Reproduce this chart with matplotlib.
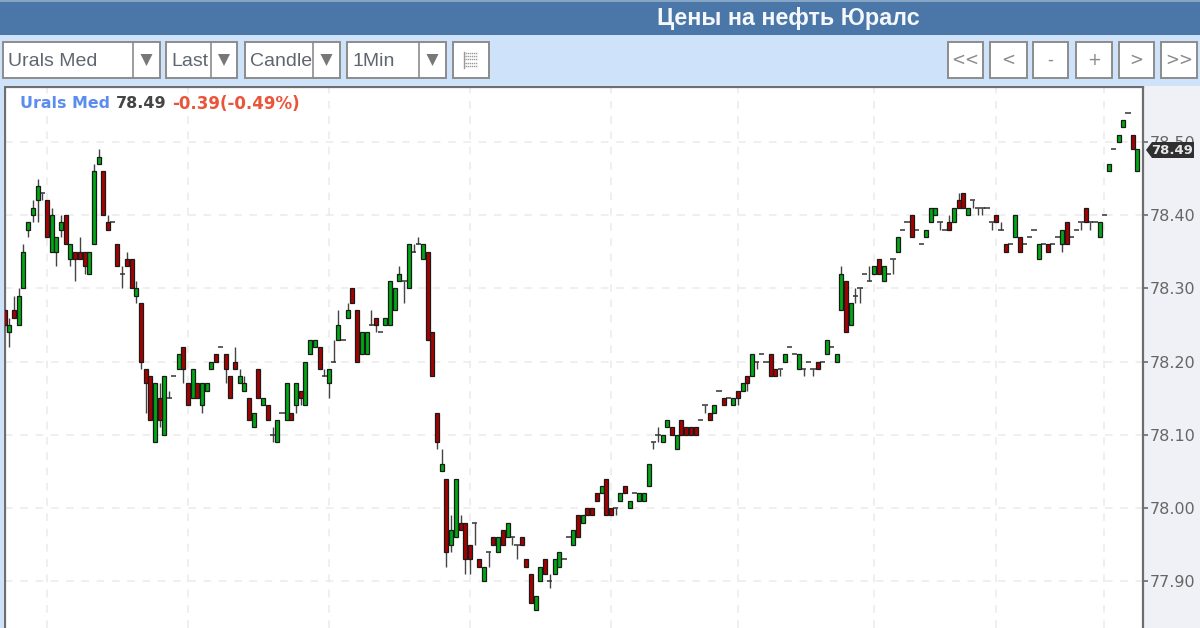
import matplotlib
matplotlib.use('Agg')
import matplotlib.pyplot as plt
from matplotlib.patches import Rectangle, Polygon
import numpy as np

# 1-minute candles, every value in cents steps
opens = [
    78.27, 78.24, 78.27, 78.25, 78.30, 78.38, 78.40, 78.42, 78.43, 78.42,
    78.35, 78.35, 78.38, 78.40, 78.34, 78.35, 78.35, 78.35, 78.32, 78.36,
    78.47, 78.46, 78.39, 78.39, 78.36, 78.32, 78.34, 78.34, 78.29, 78.28,
    78.19, 78.18, 78.09, 78.15, 78.10, 78.15, 78.18, 78.19, 78.22, 78.17,
    78.15, 78.17, 78.14, 78.16, 78.19, 78.21, 78.22, 78.21, 78.18, 78.20,
    78.17, 78.16, 78.15, 78.11, 78.19, 78.14, 78.14, 78.10, 78.09, 78.13,
    78.12, 78.13, 78.14, 78.16, 78.14, 78.21, 78.22, 78.22, 78.18, 78.17,
    78.20, 78.23, 78.23, 78.26, 78.30, 78.27, 78.21, 78.21, 78.25, 78.26,
    78.24, 78.25, 78.25, 78.27, 78.31, 78.31, 78.30, 78.35, 78.36, 78.34,
    78.35, 78.24, 78.13, 78.05, 78.04, 77.95, 77.96, 77.98, 77.98, 77.95,
    77.98, 77.93, 77.90, 77.94, 77.96, 77.94, 77.97, 77.96, 77.96, 77.95,
    77.96, 77.93, 77.91, 77.86, 77.90, 77.93, 77.90, 77.91, 77.92, 77.93,
    77.96, 77.95, 77.99, 77.98, 78.00, 78.00, 78.02, 78.02, 78.04, 78.00,
    78.00, 78.01, 78.03, 78.00, 78.02, 78.01, 78.01, 78.03, 78.09, 78.10,
    78.09, 78.11, 78.11, 78.08, 78.12, 78.11, 78.11, 78.11, 78.12, 78.14,
    78.13, 78.13, 78.16, 78.15, 78.15, 78.14, 78.16, 78.16, 78.18, 78.18,
    78.20, 78.21, 78.20, 78.21, 78.19, 78.19, 78.20, 78.22, 78.21, 78.19,
    78.19, 78.20, 78.19, 78.20, 78.20, 78.21, 78.22, 78.20, 78.27, 78.31,
    78.25, 78.29, 78.30, 78.32, 78.31, 78.32, 78.34, 78.31, 78.32, 78.34,
    78.35, 78.38, 78.39, 78.40, 78.38, 78.36, 78.37, 78.39, 78.40, 78.39,
    78.38, 78.39, 78.39, 78.42, 78.43, 78.40, 78.42, 78.41, 78.41, 78.41,
    78.39, 78.40, 78.38, 78.36, 78.36, 78.37, 78.37, 78.36, 78.37, 78.38,
    78.34, 78.36, 78.36, 78.36, 78.37, 78.36, 78.39, 78.37, 78.38, 78.39,
    78.41, 78.39, 78.39, 78.37, 78.40, 78.46, 78.49, 78.50, 78.52, 78.54, 78.51, 78.46,
]
closes = [
    78.25, 78.25, 78.26, 78.29, 78.35, 78.39, 78.41, 78.44, 78.43, 78.37,
    78.40, 78.37, 78.39, 78.36, 78.36, 78.34, 78.34, 78.33, 78.35, 78.46,
    78.48, 78.40, 78.38, 78.39, 78.33, 78.32, 78.33, 78.30, 78.30, 78.20,
    78.17, 78.12, 78.17, 78.12, 78.18, 78.15, 78.18, 78.21, 78.19, 78.14,
    78.19, 78.15, 78.17, 78.17, 78.20, 78.20, 78.22, 78.19, 78.15, 78.19,
    78.18, 78.17, 78.12, 78.13, 78.15, 78.15, 78.12, 78.10, 78.12, 78.13,
    78.17, 78.12, 78.17, 78.15, 78.20, 78.23, 78.23, 78.19, 78.18, 78.19,
    78.20, 78.25, 78.23, 78.27, 78.28, 78.20, 78.24, 78.24, 78.25, 78.25,
    78.24, 78.26, 78.31, 78.30, 78.32, 78.31, 78.36, 78.35, 78.36, 78.36,
    78.23, 78.18, 78.09, 78.06, 77.94, 77.97, 78.04, 77.97, 77.93, 77.93,
    77.98, 77.92, 77.92, 77.94, 77.95, 77.96, 77.95, 77.98, 77.96, 77.95,
    77.95, 77.92, 77.87, 77.88, 77.92, 77.91, 77.90, 77.93, 77.94, 77.93,
    77.96, 77.97, 77.96, 77.99, 77.99, 77.99, 78.01, 78.03, 77.99, 77.99,
    78.00, 78.02, 78.02, 78.01, 78.02, 78.02, 78.02, 78.06, 78.09, 78.10,
    78.10, 78.12, 78.10, 78.10, 78.10, 78.10, 78.10, 78.10, 78.12, 78.14,
    78.12, 78.14, 78.16, 78.14, 78.15, 78.15, 78.15, 78.17, 78.17, 78.21,
    78.20, 78.21, 78.20, 78.18, 78.18, 78.19, 78.21, 78.22, 78.21, 78.21,
    78.19, 78.20, 78.19, 78.19, 78.20, 78.23, 78.22, 78.21, 78.32, 78.24,
    78.28, 78.29, 78.30, 78.32, 78.31, 78.33, 78.32, 78.33, 78.32, 78.34,
    78.37, 78.38, 78.39, 78.37, 78.38, 78.36, 78.38, 78.41, 78.41, 78.39,
    78.38, 78.38, 78.41, 78.41, 78.41, 78.41, 78.42, 78.41, 78.41, 78.41,
    78.39, 78.39, 78.38, 78.35, 78.36, 78.40, 78.35, 78.36, 78.37, 78.38,
    78.36, 78.36, 78.35, 78.36, 78.37, 78.38, 78.36, 78.37, 78.38, 78.39,
    78.39, 78.39, 78.39, 78.39, 78.40, 78.47, 78.49, 78.51, 78.53, 78.54, 78.49, 78.49,
]
highs = [
    78.27, 78.26, 78.29, 78.30, 78.36, 78.39, 78.42, 78.45, 78.43, 78.42,
    78.41, 78.37, 78.40, 78.40, 78.36, 78.35, 78.37, 78.35, 78.35, 78.47,
    78.49, 78.46, 78.40, 78.39, 78.36, 78.33, 78.35, 78.34, 78.31, 78.28,
    78.19, 78.18, 78.17, 78.17, 78.18, 78.16, 78.18, 78.21, 78.22, 78.17,
    78.19, 78.17, 78.17, 78.17, 78.20, 78.21, 78.22, 78.21, 78.18, 78.22,
    78.19, 78.18, 78.15, 78.13, 78.19, 78.15, 78.14, 78.11, 78.12, 78.13,
    78.17, 78.13, 78.17, 78.16, 78.20, 78.23, 78.23, 78.22, 78.19, 78.19,
    78.23, 78.27, 78.23, 78.28, 78.30, 78.27, 78.24, 78.24, 78.27, 78.26,
    78.24, 78.26, 78.31, 78.30, 78.33, 78.31, 78.36, 78.36, 78.37, 78.36,
    78.35, 78.24, 78.13, 78.08, 78.04, 77.99, 78.04, 77.99, 77.98, 77.95,
    77.98, 77.93, 77.92, 77.94, 77.96, 77.96, 77.97, 77.98, 77.96, 77.95,
    77.96, 77.93, 77.91, 77.88, 77.92, 77.93, 77.91, 77.93, 77.94, 77.93,
    77.96, 77.97, 77.99, 77.99, 78.00, 78.00, 78.02, 78.03, 78.04, 78.00,
    78.00, 78.02, 78.03, 78.01, 78.02, 78.02, 78.02, 78.06, 78.09, 78.11,
    78.10, 78.12, 78.11, 78.10, 78.12, 78.11, 78.11, 78.11, 78.12, 78.14,
    78.13, 78.14, 78.16, 78.15, 78.15, 78.15, 78.16, 78.17, 78.18, 78.21,
    78.20, 78.21, 78.20, 78.21, 78.19, 78.19, 78.21, 78.22, 78.21, 78.21,
    78.19, 78.20, 78.19, 78.20, 78.20, 78.23, 78.22, 78.21, 78.33, 78.31,
    78.28, 78.30, 78.30, 78.32, 78.33, 78.33, 78.34, 78.33, 78.32, 78.34,
    78.37, 78.38, 78.39, 78.40, 78.38, 78.36, 78.38, 78.41, 78.41, 78.39,
    78.38, 78.40, 78.41, 78.43, 78.43, 78.41, 78.42, 78.41, 78.41, 78.41,
    78.39, 78.40, 78.39, 78.36, 78.36, 78.40, 78.37, 78.36, 78.37, 78.38,
    78.36, 78.36, 78.36, 78.36, 78.37, 78.38, 78.39, 78.37, 78.38, 78.39,
    78.41, 78.39, 78.39, 78.39, 78.40, 78.47, 78.49, 78.51, 78.53, 78.54, 78.51, 78.49,
]
lows = [
    78.24, 78.22, 78.26, 78.25, 78.30, 78.37, 78.39, 78.39, 78.42, 78.37,
    78.35, 78.33, 78.37, 78.36, 78.33, 78.31, 78.34, 78.32, 78.32, 78.36,
    78.47, 78.40, 78.38, 78.39, 78.33, 78.30, 78.33, 78.30, 78.28, 78.19,
    78.13, 78.12, 78.09, 78.11, 78.10, 78.15, 78.18, 78.19, 78.17, 78.14,
    78.15, 78.15, 78.13, 78.16, 78.19, 78.20, 78.22, 78.17, 78.15, 78.19,
    78.17, 78.16, 78.12, 78.11, 78.15, 78.14, 78.12, 78.09, 78.09, 78.13,
    78.12, 78.12, 78.13, 78.14, 78.14, 78.21, 78.22, 78.19, 78.18, 78.15,
    78.20, 78.23, 78.23, 78.26, 78.28, 78.20, 78.21, 78.21, 78.25, 78.24,
    78.24, 78.25, 78.25, 78.27, 78.31, 78.28, 78.30, 78.35, 78.36, 78.34,
    78.23, 78.18, 78.08, 78.05, 77.92, 77.94, 77.96, 77.97, 77.91, 77.91,
    77.95, 77.92, 77.90, 77.92, 77.95, 77.94, 77.95, 77.96, 77.95, 77.93,
    77.95, 77.92, 77.87, 77.86, 77.90, 77.91, 77.89, 77.91, 77.92, 77.93,
    77.96, 77.95, 77.96, 77.98, 77.99, 77.99, 78.01, 78.02, 77.99, 77.99,
    77.99, 78.01, 78.02, 78.00, 78.02, 78.01, 78.01, 78.03, 78.08, 78.09,
    78.09, 78.11, 78.10, 78.08, 78.10, 78.10, 78.10, 78.10, 78.12, 78.13,
    78.12, 78.13, 78.16, 78.14, 78.15, 78.14, 78.14, 78.16, 78.16, 78.18,
    78.19, 78.21, 78.20, 78.18, 78.18, 78.18, 78.20, 78.22, 78.21, 78.19,
    78.18, 78.20, 78.18, 78.19, 78.20, 78.21, 78.22, 78.20, 78.27, 78.24,
    78.25, 78.28, 78.28, 78.32, 78.31, 78.32, 78.32, 78.31, 78.32, 78.32,
    78.35, 78.38, 78.39, 78.37, 78.38, 78.36, 78.37, 78.39, 78.40, 78.38,
    78.38, 78.38, 78.39, 78.41, 78.41, 78.40, 78.41, 78.40, 78.40, 78.41,
    78.38, 78.39, 78.38, 78.35, 78.36, 78.37, 78.35, 78.36, 78.37, 78.38,
    78.34, 78.36, 78.35, 78.36, 78.37, 78.35, 78.36, 78.37, 78.38, 78.38,
    78.39, 78.38, 78.39, 78.37, 78.40, 78.46, 78.49, 78.50, 78.52, 78.54, 78.49, 78.46,
]
price_ticks = [77.90, 78.00, 78.10, 78.20, 78.30, 78.40, 78.50]
time_grid = [9, 39, 69, 99, 129, 156, 185, 211, 234]

W, H = 1200, 628
fig = plt.figure(figsize=(W / 100, H / 100), dpi=100, facecolor='#eff1f6')


def px_axes(left, top, right, bottom, **kw):
    return fig.add_axes([left / W, 1 - bottom / H, (right - left) / W, (bottom - top) / H], **kw)


ax = px_axes(4.5, 87, 1143, 628)
ax.set_facecolor('white')
ax.set_xlim(-0.04, 242.2)
ax.set_ylim(77.836, 78.575)

# grid
ax.set_axisbelow(True)
ax.set_yticks(price_ticks)
ax.set_yticklabels(['%.2f' % p for p in price_ticks])
ax.set_xticks(time_grid)
ax.tick_params(axis='x', length=0, labelbottom=False)
ax.yaxis.tick_right()
ax.tick_params(axis='y', length=3.6, width=1.3, color='#777777', labelcolor='#666666',
               labelsize=11.5, pad=1.5)
ax.grid(True, color='#ebebeb', linestyle=(0, (5, 5)), linewidth=1.1)
for side in ['top', 'left', 'right']:
    ax.spines[side].set_color('#6e6e6e')
    ax.spines[side].set_linewidth(1.6)
ax.spines['bottom'].set_visible(False)

# candles
o = np.array(opens)
c = np.array(closes)
hi = np.array(highs)
lo = np.array(lows)
x = np.arange(len(o))
ax.vlines(x, lo, hi, color='#444444', linewidth=1.0, zorder=2)
flat = o == c
ax.hlines(c[flat], x[flat] - 0.55, x[flat] + 0.55, color='#333333', linewidth=1.1, zorder=3)
up = c > o
down = c < o
ax.bar(x[up], (c - o)[up], bottom=o[up], width=0.85, color='#00a814', edgecolor='#1a1a1a',
       linewidth=0.9, zorder=3)
ax.bar(x[down], (c - o)[down], bottom=o[down], width=0.85, color='#a80000', edgecolor='#1a1a1a',
       linewidth=0.9, zorder=3)

# page furniture in pixel coordinates
ui = px_axes(0, 0, W, H, zorder=5)
ui.set_xlim(0, W)
ui.set_ylim(H, 0)
ui.axis('off')
ui.patch.set_alpha(0)

ui.add_patch(Rectangle((0, 0), W, 36, color='#4a77a8', lw=0))
ui.add_patch(Rectangle((0, 0), W, 2, color='#87a6c6', lw=0))
ui.add_patch(Rectangle((0, 35), W, 51, color='#cee2f9', lw=0))
ui.add_patch(Rectangle((0, 86), 4, H - 86, color='#cee2f9', lw=0))
ui.text(788.5, 18, 'Цены на нефть Юралс', color='#f4f8fc', fontsize=16.8, fontweight='bold',
        family='Liberation Sans', ha='center', va='center')


def box(x0, x1, divider=None):
    ui.add_patch(Rectangle((x0, 42), x1 - x0, 36, facecolor='white', edgecolor='#8c8c8c', lw=1.4))
    if divider:
        ui.plot([divider, divider], [42, 78], color='#8c8c8c', lw=1.2)
        mid = (divider + x1) / 2
        ui.add_patch(Polygon([(mid - 6, 54), (mid + 6, 54), (mid, 66)], color='#777777', lw=0))


for x0, x1, dv, label in [(3, 160, 133, 'Urals Med'), (166, 237, 211, 'Last'),
                          (245, 340, 313, 'Candle'), (347, 446, 419, '1Min')]:
    box(x0, x1, dv)
    ui.text(x0 + 5, 61, label, color='#5f6670', fontsize=14, family='Liberation Sans', va='center')

# calendar-like icon button
box(453, 489)
for row in range(5):
    ui.plot([465, 477], [53 + row * 3.2] * 2, color='#9a9a9a', lw=1, linestyle=(0, (1, 0.5)))
ui.plot([464, 464], [52, 68], color='#9a9a9a', lw=1)

for x0, x1, label in [(948, 983, '<<'), (990, 1027, '<'), (1033, 1068, '-'),
                      (1076, 1112, '+'), (1119, 1154, '>'), (1161, 1197, '>>')]:
    box(x0, x1)
    ui.text((x0 + x1) / 2, 60, label, color='#8a8a8a', fontsize=12, family='DejaVu Sans',
            ha='center', va='center')

ui.text(20, 104, 'Urals Med', color='#5b8def', fontsize=11.4, fontweight='bold', va='center')
ui.text(116, 104, '78.49', color='#454545', fontsize=11.5, fontweight='bold', va='center')
ui.text(172, 104, '-0.39(-0.49%)', color='#e8553a', fontsize=12, fontweight='bold', va='center')

ui.add_patch(Polygon([(1146, 150), (1152, 142), (1194, 142), (1194, 158), (1152, 158)],
                     color='#303030', lw=0))
ui.text(1172.5, 150, '78.49', color='#e8e8e8', fontsize=9.5, fontweight='bold',
        ha='center', va='center')

fig.savefig('out.png', dpi=100, facecolor=fig.get_facecolor())
